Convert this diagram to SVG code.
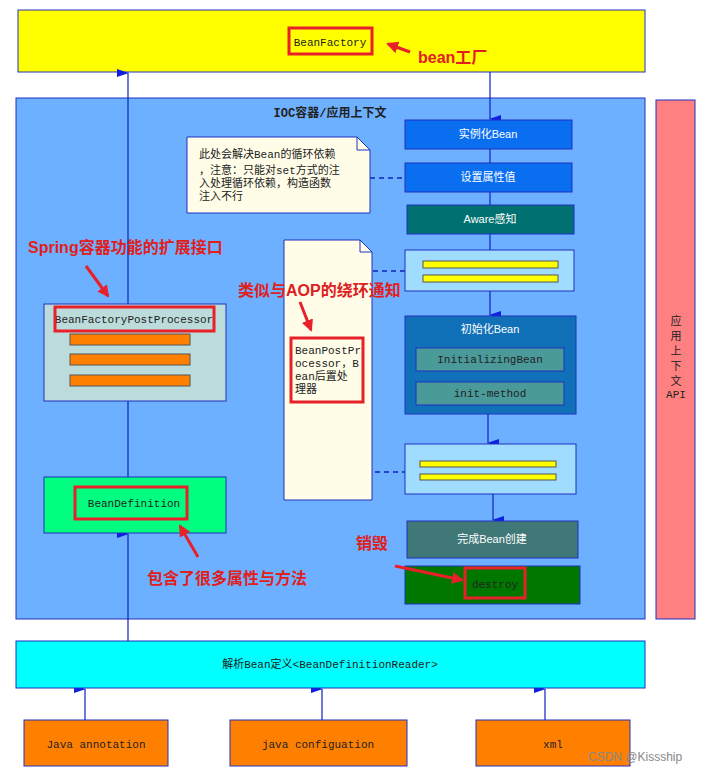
<svg xmlns="http://www.w3.org/2000/svg" width="707" height="775" viewBox="0 0 707 775">
<style>
.m{font-family:"Liberation Mono","Noto Sans CJK SC",monospace;font-size:11px;fill:#222}
.s{font-family:"Liberation Sans","Noto Sans CJK SC",sans-serif;font-size:11px;fill:#fff}
.r{font-family:"Liberation Sans","Noto Sans CJK SC",sans-serif;font-size:16px;font-weight:bold;fill:#e02020}
.rb{fill:none;stroke:#e8202a;stroke-width:3}
.ln{stroke:#1020c0;stroke-width:1.2;fill:none}
.ds{stroke:#1020c0;stroke-width:1.5;stroke-dasharray:5,4;fill:none}
.ra{stroke:#e8202a;stroke-width:3;fill:none;marker-end:url(#ra)}
.bd{stroke:#2030c0;stroke-width:1}
.yb{fill:#ffff00;stroke:#555;stroke-width:1}
.ob{fill:#ff8000;stroke:#555;stroke-width:1}
</style>
<defs>
<marker id="ah" markerWidth="8" markerHeight="12" refX="4" refY="11" orient="auto-start-reverse" markerUnits="userSpaceOnUse" viewBox="0 0 8 12"><path d="M0,0 L8,0 L4,12 Z" fill="#1020e0"/></marker>
<marker id="ra" markerWidth="12" markerHeight="12" refX="10" refY="6" orient="auto" markerUnits="userSpaceOnUse" viewBox="0 0 12 12"><path d="M0,0 L12,6 L0,12 Z" fill="#e8202a"/></marker>
</defs>
<rect width="707" height="775" fill="#fff"/>
<g id="beanfactory"><rect x="18" y="10" width="627" height="62" fill="#ffff00" class="bd"/><text class="m" x="330" y="46" text-anchor="middle">BeanFactory</text><rect class="rb" x="289" y="28" width="83" height="26"/></g>
<g id="ioc"><rect x="16" y="98" width="629" height="521" fill="#6cb0ff" class="bd"/><text x="330" y="117" text-anchor="middle" font-family="Liberation Mono,Noto Sans CJK SC,monospace" font-size="12" font-weight="bold" fill="#222">IOC容器/应用上下文</text></g>
<g id="api"><rect x="656" y="100" width="39" height="519" fill="#ff8080" class="bd"/><text class="m" x="676" text-anchor="middle"><tspan x="676" y="325">应</tspan><tspan x="676" y="340">用</tspan><tspan x="676" y="355">上</tspan><tspan x="676" y="370">下</tspan><tspan x="676" y="385">文</tspan><tspan x="676" y="398">API</tspan></text></g>
<g id="connectors">
<line class="ln" x1="490" y1="72" x2="490" y2="119" marker-end="url(#ah)"/>
<line class="ln" x1="490" y1="149" x2="490" y2="163"/>
<line class="ln" x1="490" y1="192" x2="490" y2="205"/>
<line class="ln" x1="490" y1="234" x2="490" y2="250"/>
<line class="ln" x1="490" y1="291" x2="490" y2="315" marker-end="url(#ah)"/>
<line class="ln" x1="488" y1="414" x2="488" y2="443" marker-end="url(#ah)"/>
<line class="ln" x1="493" y1="494" x2="493" y2="520" marker-end="url(#ah)"/>
<line class="ds" x1="370" y1="178" x2="405" y2="178"/>
<line class="ds" x1="373" y1="271" x2="405" y2="271"/>
<line class="ds" x1="375" y1="472" x2="405" y2="472"/>
<line class="ln" x1="128" y1="304" x2="128" y2="73" marker-end="url(#ah)"/>
<line class="ln" x1="128" y1="477" x2="128" y2="401"/>
<line class="ln" x1="128" y1="641" x2="128" y2="534" marker-end="url(#ah)"/>
<line class="ln" x1="85" y1="720" x2="85" y2="689" marker-end="url(#ah)"/>
<line class="ln" x1="322" y1="720" x2="322" y2="689" marker-end="url(#ah)"/>
<line class="ln" x1="545" y1="720" x2="545" y2="689" marker-end="url(#ah)"/>
</g>
<g id="inst"><rect x="405" y="120" width="167" height="29" fill="#0a6ef0" class="bd"/><text class="s" x="488" y="138" text-anchor="middle" fill="#eef">实例化Bean</text></g>
<g id="props"><rect x="405" y="163" width="167" height="29" fill="#0a6ef0" class="bd"/><text class="s" x="488" y="181" text-anchor="middle">设置属性值</text></g>
<g id="aware"><rect x="407" y="205" width="167" height="29" fill="#007070" class="bd"/><text class="s" x="490" y="223" text-anchor="middle">Aware感知</text></g>
<g id="bpp1"><rect x="405" y="250" width="169" height="41" fill="#a0dcff" class="bd"/><rect class="yb" x="423" y="261" width="135" height="7"/><rect class="yb" x="423" y="275" width="135" height="7"/></g>
<g id="init"><rect x="405" y="316" width="171" height="98" fill="#1070b8" class="bd"/><text class="s" x="490" y="333" text-anchor="middle" fill="#cde">初始化Bean</text>
<rect x="416" y="348" width="148" height="23" fill="#4a9a9a" class="bd"/><text class="m" x="490" y="363" text-anchor="middle" fill="#dfe">InitializingBean</text>
<rect x="416" y="382" width="148" height="23" fill="#4a9a9a" class="bd"/><text class="m" x="490" y="397" text-anchor="middle" fill="#dfe">init-method</text></g>
<g id="bpp2"><rect x="405" y="444" width="171" height="50" fill="#a0dcff" class="bd"/><rect class="yb" x="420" y="461" width="136" height="6"/><rect class="yb" x="420" y="474" width="136" height="6"/></g>
<g id="done"><rect x="407" y="521" width="171" height="37" fill="#407878" class="bd"/><text class="s" x="492" y="543" text-anchor="middle">完成Bean创建</text></g>
<g id="destroy"><rect x="405" y="566" width="175" height="38" fill="#007800" class="bd"/><text class="m" x="495" y="588" text-anchor="middle">destroy</text><rect class="rb" x="465" y="568" width="60" height="30"/></g>
<g id="note1"><path d="M187,137 H357 L370,150 V213 H187 Z" fill="#fffde8" stroke="#2030c0"/><path d="M357,137 V150 H370" fill="none" stroke="#2030c0"/>
<text class="m" x="199" y="158" fill="#222">此处会解决Bean的循环依赖</text><text class="m" x="199" y="174">，注意：只能对set方式的注</text><text class="m" x="199" y="187">入处理循环依赖，构造函数</text><text class="m" x="199" y="200">注入不行</text></g>
<g id="note2"><path d="M284,240 H360 L372,252 V500 H284 Z" fill="#fffde8" stroke="#2030c0"/><path d="M360,240 V252 H372" fill="none" stroke="#2030c0"/>
<text class="m" x="295" y="354">BeanPostPr</text><text class="m" x="295" y="367">ocessor，B</text><text class="m" x="295" y="380">ean后置处</text><text class="m" x="295" y="393">理器</text><rect class="rb" x="291" y="338" width="72" height="64"/></g>
<g id="bfpp"><rect x="44" y="304" width="182" height="97" fill="#bcdcdc" class="bd"/><text class="m" x="134" y="323" text-anchor="middle">BeanFactoryPostProcessor</text><rect class="rb" x="55" y="307" width="159" height="24"/>
<rect class="ob" x="70" y="334" width="120" height="11"/><rect class="ob" x="70" y="354" width="120" height="11"/><rect class="ob" x="70" y="375" width="120" height="11"/></g>
<g id="beandef"><rect x="44" y="477" width="182" height="56" fill="#00ff80" class="bd"/><text class="m" x="134" y="507" text-anchor="middle">BeanDefinition</text><rect class="rb" x="75" y="487" width="112" height="32"/></g>
<g id="reader"><rect x="16" y="641" width="629" height="47" fill="#00ffff" class="bd"/><text class="m" x="330" y="668" text-anchor="middle">解析Bean定义&lt;BeanDefinitionReader&gt;</text></g>
<g id="annot"><rect x="24" y="720" width="144" height="46" fill="#ff8000" class="bd"/><text class="m" x="96" y="748" text-anchor="middle">Java annotation</text></g>
<g id="config"><rect x="230" y="720" width="177" height="46" fill="#ff8000" class="bd"/><text class="m" x="318" y="748" text-anchor="middle">java configuation</text></g>
<g id="xml"><rect x="476" y="720" width="154" height="46" fill="#ff8000" class="bd"/><text class="m" x="553" y="748" text-anchor="middle">xml</text></g>
<g id="labels">
<text class="r" x="418" y="63">bean工厂</text><line class="ra" x1="410" y1="52" x2="388" y2="44"/>
<text class="r" x="28" y="253">Spring容器功能的扩展接口</text><line class="ra" x1="86" y1="266" x2="108" y2="296"/>
<text class="r" x="238" y="296">类似与AOP的绕环通知</text><line class="ra" x1="300" y1="302" x2="311" y2="330"/>
<text class="r" x="147" y="584">包含了很多属性与方法</text><line class="ra" x1="198" y1="557" x2="180" y2="526"/>
<text class="r" x="356" y="549">销毁</text><line class="ra" x1="395" y1="566" x2="462" y2="580"/>
<text x="588" y="761" font-family="Liberation Sans,Noto Sans CJK SC,sans-serif" font-size="12" fill="#888">CSDN @Kissship</text>
</g>
</svg>
